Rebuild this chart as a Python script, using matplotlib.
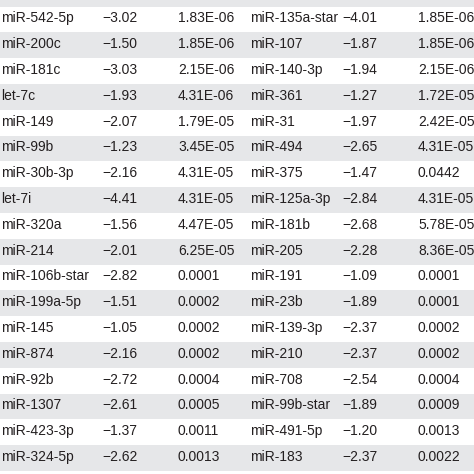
import matplotlib.pyplot as plt
from matplotlib.patches import Rectangle

names_left = ["miR-542-5p", "miR-200c", "miR-181c", "let-7c", "miR-149", "miR-99b",
              "miR-30b-3p", "let-7i", "miR-320a", "miR-214", "miR-106b-star", "miR-199a-5p",
              "miR-145", "miR-874", "miR-92b", "miR-1307", "miR-423-3p", "miR-324-5p"]
fold_left = ["\u22123.02", "\u22121.50", "\u22123.03", "\u22121.93", "\u22122.07", "\u22121.23",
             "\u22122.16", "\u22124.41", "\u22121.56", "\u22122.01", "\u22122.82", "\u22121.51",
             "\u22121.05", "\u22122.16", "\u22122.72", "\u22122.61", "\u22121.37", "\u22122.62"]
p_left = ["1.83E-06", "1.85E-06", "2.15E-06", "4.31E-06", "1.79E-05", "3.45E-05",
          "4.31E-05", "4.31E-05", "4.47E-05", "6.25E-05", "0.0001", "0.0002",
          "0.0002", "0.0002", "0.0004", "0.0005", "0.0011", "0.0013"]
names_right = ["miR-135a-star", "miR-107", "miR-140-3p", "miR-361", "miR-31", "miR-494",
               "miR-375", "miR-125a-3p", "miR-181b", "miR-205", "miR-191", "miR-23b",
               "miR-139-3p", "miR-210", "miR-708", "miR-99b-star", "miR-491-5p", "miR-183"]
fold_right = ["\u22124.01", "\u22121.87", "\u22121.94", "\u22121.27", "\u22121.97", "\u22122.65",
              "\u22121.47", "\u22122.84", "\u22122.68", "\u22122.28", "\u22121.09", "\u22121.89",
              "\u22122.37", "\u22122.37", "\u22122.54", "\u22121.89", "\u22121.20", "\u22122.37"]
p_right = ["1.85E-06", "1.85E-06", "2.15E-06", "1.72E-05", "2.42E-05", "4.31E-05",
           "0.0442", "4.31E-05", "5.78E-05", "8.36E-05", "0.0001", "0.0001",
           "0.0002", "0.0002", "0.0004", "0.0009", "0.0013", "0.0022"]

plt.rcParams['font.family'] = ['Liberation Sans Narrow', 'Liberation Sans', 'DejaVu Sans']

fig = plt.figure(figsize=(4.74, 4.74), dpi=100)
ax = fig.add_axes([0, 0, 1, 1])
ax.set_xlim(0, 474)
ax.set_ylim(474, 0)
ax.axis('off')

gray = '#e6e7e9'
row_h = 25.8
top = 6.5
ax.add_patch(Rectangle((0, 0), 474, top, color=gray, lw=0))

cols = [(1, names_left), (102, fold_left), (178, p_left),
        (250, names_right), (342, fold_right), (418, p_right)]

for i in range(len(names_left)):
    y0 = top + i * row_h
    if i % 2 == 1:
        ax.add_patch(Rectangle((0, y0), 474, row_h, color=gray, lw=0))
    for x, vals in cols:
        ax.text(x, y0 + row_h / 2 - 1, vals[i], fontsize=10, color='#231f20',
                ha='left', va='center')

fig.savefig('out.png', dpi=100)
